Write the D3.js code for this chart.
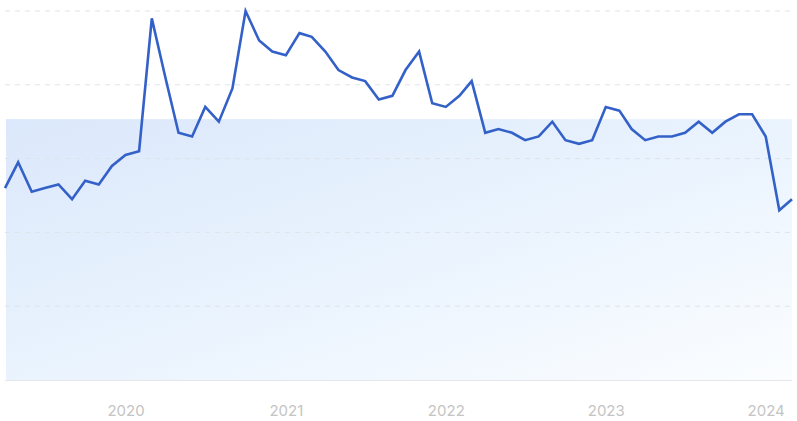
<!DOCTYPE html>
<html>
<head>
<meta charset="utf-8">
<script src="https://cdn.jsdelivr.net/npm/d3@7"></script>
<style>
  html, body { margin: 0; padding: 0; background: #fff; overflow: hidden; }
  #chart { width: 797px; height: 421px; }
  .x.axis text { font-family: Inter, "Noto Sans", sans-serif; font-size: 15px; fill: #c4c4c4; }
</style>
</head>
<body>
<div id="chart"></div>
<script>
'use strict';

// monthly interest, Apr 2019 .. Mar 2024
const startMonth = [2019, 3];
const values = [
  52, 59, 51, 52, 53, 49, 54, 53, 58, 61, 62,
  98, 82, 67, 66, 74, 70, 79, 100, 92, 89, 88, 94, 93,
  89, 84, 82, 81, 76, 77, 84, 89, 75, 74, 77, 81,
  67, 68, 67, 65, 66, 70, 65, 64, 65, 74, 73, 68,
  65, 66, 66, 67, 70, 67, 70, 72, 72, 66, 46, 49
];
const yTicks = [0, 20, 40, 60, 80, 100];
const yearTicks = ['2020', '2021', '2022', '2023', '2024'];
const bandTop = 70.7;

const data = values.map((v, i) => ({
  date: new Date(startMonth[0], startMonth[1] + i, 1),
  value: v
}));

const width = 797, height = 421;
const padding = { top: 11, right: 5, bottom: 41, left: 5 };
const innerWidth = width - padding.left - padding.right;
const innerHeight = height - padding.top - padding.bottom;

const svg = d3.select('#chart')
  .append('svg')
  .attr('width', width)
  .attr('height', height)
  .style('display', 'block');

const defs = svg.append('defs');
const grad = defs.append('linearGradient')
  .attr('id', 'bandFill')
  .attr('x1', 0).attr('y1', 0).attr('x2', 1).attr('y2', 1);
grad.append('stop').attr('offset', '0%').attr('stop-color', '#dbe8fb');
grad.append('stop').attr('offset', '55%').attr('stop-color', '#ebf4fe');
grad.append('stop').attr('offset', '100%').attr('stop-color', '#fbfdff');

const ctx = svg.append('g')
  .attr('transform', 'translate(' + padding.left + ',' + padding.top + ')');

const x = d3.scaleTime()
  .domain(d3.extent(data, d => d.date))
  .range([0, innerWidth]);
const y = d3.scaleLinear().domain([0, 100]).range([innerHeight, 0]);

// shaded band
ctx.append('rect')
  .attr('x', 1)
  .attr('y', y(bandTop))
  .attr('width', innerWidth - 1)
  .attr('height', y(0) - y(bandTop))
  .attr('fill', 'url(#bandFill)');

// grid lines
ctx.append('g')
  .selectAll('line')
  .data(yTicks.filter(d => d > 0))
  .enter()
  .append('line')
  .attr('x1', 0)
  .attr('x2', innerWidth)
  .attr('y1', d => y(d))
  .attr('y2', d => y(d))
  .attr('stroke', '#dfe3e8')
  .attr('stroke-dasharray', '5,5');

// baseline
ctx.append('line')
  .attr('x1', 0)
  .attr('x2', innerWidth)
  .attr('y1', y(0) + 0.5)
  .attr('y2', y(0) + 0.5)
  .attr('stroke', '#e3e6ea');

// x axis with year labels
const xAxis = d3.axisBottom(x)
  .tickValues(yearTicks.map(s => new Date(+s, 0, 1)))
  .tickFormat(d3.timeFormat('%Y'))
  .tickSize(0)
  .tickPadding(25);

const xTicks = ctx.append('g')
  .attr('class', 'x axis')
  .attr('transform', 'translate(0,' + innerHeight + ')')
  .call(xAxis);
xTicks.select('.domain').remove();

// line
const line = d3.line()
  .x(d => x(d.date))
  .y(d => y(d.value));

ctx.append('path')
  .datum(data)
  .attr('fill', 'none')
  .attr('stroke', '#3461c8')
  .attr('stroke-width', 2.6)
  .attr('stroke-linejoin', 'miter')
  .attr('d', line);
</script>
</body>
</html>
